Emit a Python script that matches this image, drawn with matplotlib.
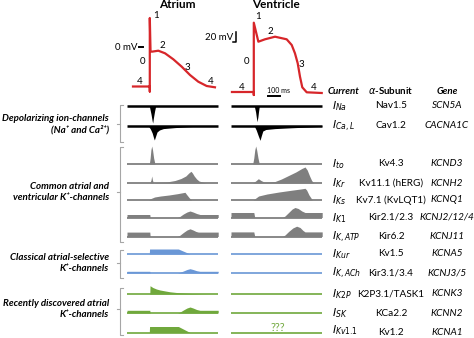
import numpy as np
import matplotlib
matplotlib.use('Agg')
import matplotlib.pyplot as plt

# ---- data ----
# action potentials: time (ms) and voltage (mV)
ap_atr_t = [50, 190, 190, 190, 196, 206, 261, 317, 386, 456, 525, 594, 664, 733]
ap_atr_v = [-79, -79, -89, 58, -8, -9.4, -7.4, -12.6, -24.6, -39.4, -56, -69.4, -78, -80.6]
ap_ven_t = [8, 190, 190, 190, 228, 283, 367, 464, 506, 533, 556, 575, 594, 631, 756]
ap_ven_v = [-90, -90, -96, 48.6, 10.6, 15.4, 20.6, 15.4, 4, -12.6, -32.6, -59.4, -80.6, -90.6, -92]

# current traces: (time ms, amplitude a.u., + = outward)
ina_atr = ([186, 200, 210, 214, 220, 230, 239], [0, -8, -15, -17, -12, -5, 0])
ica_atr = ([178, 195, 210, 222, 228, 236, 250, 270, 303, 400, 500, 622],
           [0, -3, -7, -12, -14, -11, -6, -4, -2.6, -1.6, -0.8, 0])
ito_atr = ([186, 193, 199, 206, 213, 222, 233], [0, 6, 14, 18, 14, 6, 0])
ikr_atr = ([190, 200, 206, 212, 220, 240, 330, 400, 450, 490, 515, 533, 545, 560, 580, 600, 640, 660],
           [0, 3, 7, 3, 0, 0.5, 1, 2.5, 4.5, 7, 10, 11.7, 10, 7, 4, 2, 0.5, 0])
iks_atr = ([180, 200, 230, 280, 350, 420, 483, 500, 520, 539],
           [0, 1.5, 3, 4, 5, 6.3, 7.7, 5, 2, 0])
ik1_atr = ([0, 190, 193, 420, 440, 470, 500, 525, 550, 580, 608, 760],
           [3, 3, 0, 0, 1, 3.5, 5.5, 6.5, 5.5, 4, 3, 3])
ikatp_atr = ([0, 190, 193, 420, 440, 470, 500, 525, 550, 575, 595, 760],
             [4.4, 4.4, 0, 0, 1.2, 4, 6.5, 7.7, 6.5, 5, 4.4, 4.4])
ikur_atr = ([186, 188, 428, 525], [0, 5, 5, 0])
ikach_atr = ([0, 190, 193, 420, 440, 470, 500, 525, 550, 580, 608, 760],
             [1.7, 1.7, 0, 0, 0.6, 2, 3.5, 4.3, 3.5, 2.3, 1.7, 1.7])
ik2p_atr = ([190, 192, 215, 245, 275, 320, 358, 420, 469, 540, 620, 700],
            [0, 8.3, 6.5, 5, 4, 3, 2.2, 1.4, 1, 0.5, 0.2, 0])
isk_atr = ([0, 190, 193, 420, 440, 470, 500, 525, 550, 580, 608, 760],
           [2.7, 2.7, 0, 0, 0.8, 3, 5, 6, 5, 3.5, 2.7, 2.7])
ikv_atr = ([186, 188, 428, 525], [0, 6, 6, 0])

ina_ven = ([194, 205, 212, 217, 224, 230, 236], [0, -6, -12, -15.7, -11, -5, 0])
ica_ven = ([194, 210, 228, 242, 252, 265, 290, 367, 500, 650, 760],
           [0, -4, -10, -14.3, -10, -5, -3.5, -2.6, -1.8, -1, -0.3])
ito_ven = ([181, 190, 198, 206, 214, 225, 236], [0, 6, 14, 18, 14, 6, 0])
ikr_ven = ([180, 205, 228, 250, 275, 320, 367, 420, 480, 540, 590, 617, 635, 655, 672, 690],
           [0, 2, 4.3, 2.5, 1, 1, 1.5, 4, 7.5, 11, 14.5, 16, 13, 7, 2.5, 0])
iks_ven = ([185, 230, 300, 400, 500, 580, 617, 630, 650, 678],
           [0, 4, 6, 8, 9.7, 11, 11.7, 10, 5, 0])
ik1_ven = ([0, 190, 198, 430, 450, 480, 510, 533, 560, 590, 617, 760],
           [5, 5, 0, 0, 1.5, 5, 8.5, 10, 9, 6.5, 5, 5])
ikatp_ven = ([0, 190, 198, 430, 450, 480, 515, 547, 575, 600, 617, 760],
             [4.6, 4.6, 0, 0, 1.5, 5, 8.5, 10.3, 9, 6, 4.6, 4.6])

currents = ['Na', 'Ca,L', 'to', 'Kr', 'Ks', 'K1', 'K,ATP', 'Kur', 'K,ACh', 'K2P', 'SK', 'Kv1.1']
subunits = ['Nav1.5', 'Cav1.2', 'Kv4.3', 'Kv11.1 (hERG)', 'Kv7.1 (KvLQT1)', 'Kir2.1/2.3',
            'Kir6.2', 'Kv1.5', 'Kir3.1/3.4', 'K2P3.1/TASK1', 'KCa2.2', 'Kv1.2']
genes = ['SCN5A', 'CACNA1C', 'KCND3', 'KCNH2', 'KCNQ1', 'KCNJ2/12/4', 'KCNJ11',
         'KCNA5', 'KCNJ3/5', 'KCNK3', 'KCNN2', 'KCNA1']
atr_traces = [ina_atr, ica_atr, ito_atr, ikr_atr, iks_atr, ik1_atr, ikatp_atr,
              ikur_atr, ikach_atr, ik2p_atr, isk_atr, ikv_atr]
ven_traces = [ina_ven, ica_ven, ito_ven, ikr_ven, iks_ven, ik1_ven, ikatp_ven,
              None, None, None, None, None]
groups = ['Depolarizing ion-channels\n(Na\u207a and Ca\u00b2\u207a)',
          'Common atrial and\nventricular K\u207a-channels',
          'Classical atrial-selective\nK\u207a-channels',
          'Recently discovered atrial\nK\u207a-channels']

# ---- layout ----
W, H = 474, 338
ATR_X0, VEN_X0 = 127, 231
PX_MS = 0.12
PANEL_MS = 760
ZERO_Y = 47
PX_MV = 0.5
row_y = [106, 126, 164, 183, 200, 217.5, 236.5, 254, 273, 294, 313, 332.5]
BLACK, GRAY, BLUE, GREEN, RED = '#000000', '#7f7f7f', '#6a97d6', '#70a83c', '#d7262a'
row_col = [BLACK] * 2 + [GRAY] * 5 + [BLUE] * 2 + [GREEN] * 3
row_lw = [1.8] * 2 + [1.3] * 5 + [1.2] * 5
brackets = [(105, 142, 124), (147, 242, 192), (250, 278, 263), (288, 335, 309)]
LAB = 'Lato'
LABS = ['Lato', 'DejaVu Sans']

fig = plt.figure(figsize=(W / 100, H / 100), dpi=100)
ax = fig.add_axes([0, 0, 1, 1])
ax.set_xlim(0, W)
ax.set_ylim(H, 0)
ax.axis('off')


def tx(x0, t):
    return x0 + np.asarray(t, float) * PX_MS


def vy(v):
    return ZERO_Y - np.asarray(v, float) * PX_MV


# action potentials
ax.plot(tx(ATR_X0, ap_atr_t), vy(ap_atr_v), color=RED, lw=1.6, solid_joinstyle='round')
ax.plot(tx(VEN_X0, ap_ven_t), vy(ap_ven_v), color=RED, lw=1.6, solid_joinstyle='round')
ax.text(177, 5, 'Atrium', ha='center', va='center', fontsize=8.5, fontweight='bold', family=LAB)
ax.text(276, 5, 'Ventricle', ha='center', va='center', fontsize=8.5, fontweight='bold', family=LAB)
for x, y, s in [(156, 15, '1'), (162, 46, '2'), (142.5, 62, '0'), (187.5, 68, '3'),
                (139.5, 82, '4'), (210.5, 82, '4'), (258, 16.5, '1'), (270, 32, '2'),
                (246.5, 62, '0'), (301, 64.5, '3'), (241.5, 87, '4'), (313.5, 87, '4')]:
    ax.text(x, y, s, ha='center', va='center', fontsize=7, family=LAB)
ax.text(137.5, 47, '0 mV', ha='right', va='center', fontsize=7, family=LAB)
ax.plot([139.5, 143.5], [47, 47], color='black', lw=1.4)
ax.plot([233.3, 235.7, 235.7], [41.7, 41.7, 31.7], color='black', lw=1.1)
ax.text(233, 37, '20 mV', ha='right', va='center', fontsize=7, family=LAB)
ax.plot(tx(VEN_X0, [311, 411]), [95.7, 95.7], color='black', lw=1.4)
ax.text(279, 90.5, '100 ms', ha='center', va='center', fontsize=5, family=LAB)

# headers
ax.text(344, 91, 'Current', ha='center', va='center', fontsize=7, fontweight='bold',
        style='italic', family=LAB)
ax.text(391, 91, r'$\alpha$-Subunit', ha='center', va='center', fontsize=7,
        fontweight='bold', family=LAB)
ax.text(447, 91, 'Gene', ha='center', va='center', fontsize=7, fontweight='bold',
        style='italic', family=LAB)

# current traces and labels
for i in range(len(currents)):
    base, c, lw = row_y[i], row_col[i], row_lw[i]
    for x0, tr in [(ATR_X0, atr_traces[i]), (VEN_X0, ven_traces[i])]:
        ax.plot([x0, x0 + PANEL_MS * PX_MS], [base, base], color=c, lw=lw,
                solid_capstyle='butt')
        if tr is not None:
            x = tx(x0, tr[0])
            ax.fill_between(x, base, base - np.asarray(tr[1], float), color=c, lw=0)
    ax.text(332, min(base + 0.5, 330.5), r'$I_{%s}$' % currents[i], ha='left',
            va='center', fontsize=7.8)
    ax.text(391, base, subunits[i], ha='center', va='center', fontsize=7.2, family=LAB)
    ax.text(447, base, genes[i], ha='center', va='center', fontsize=7.2, style='italic', family=LAB)

ax.text(278, 327.5, '???', ha='center', va='center', fontsize=8, color=GREEN, family=LAB)

# group brackets and labels
for (y0, y1, ym), g in zip(brackets, groups):
    ax.plot([123, 120, 120, 123], [y0, y0, y1, y1], color='#a6a6a6', lw=0.8)
    ax.plot([117.5, 120], [ym, ym], color='#a6a6a6', lw=0.8)
    ax.text(109, ym, g, ha='right', va='center', fontsize=7.0, fontweight='bold',
            style='italic', family=LABS, linespacing=1.2)

fig.savefig('out.png', dpi=100)
